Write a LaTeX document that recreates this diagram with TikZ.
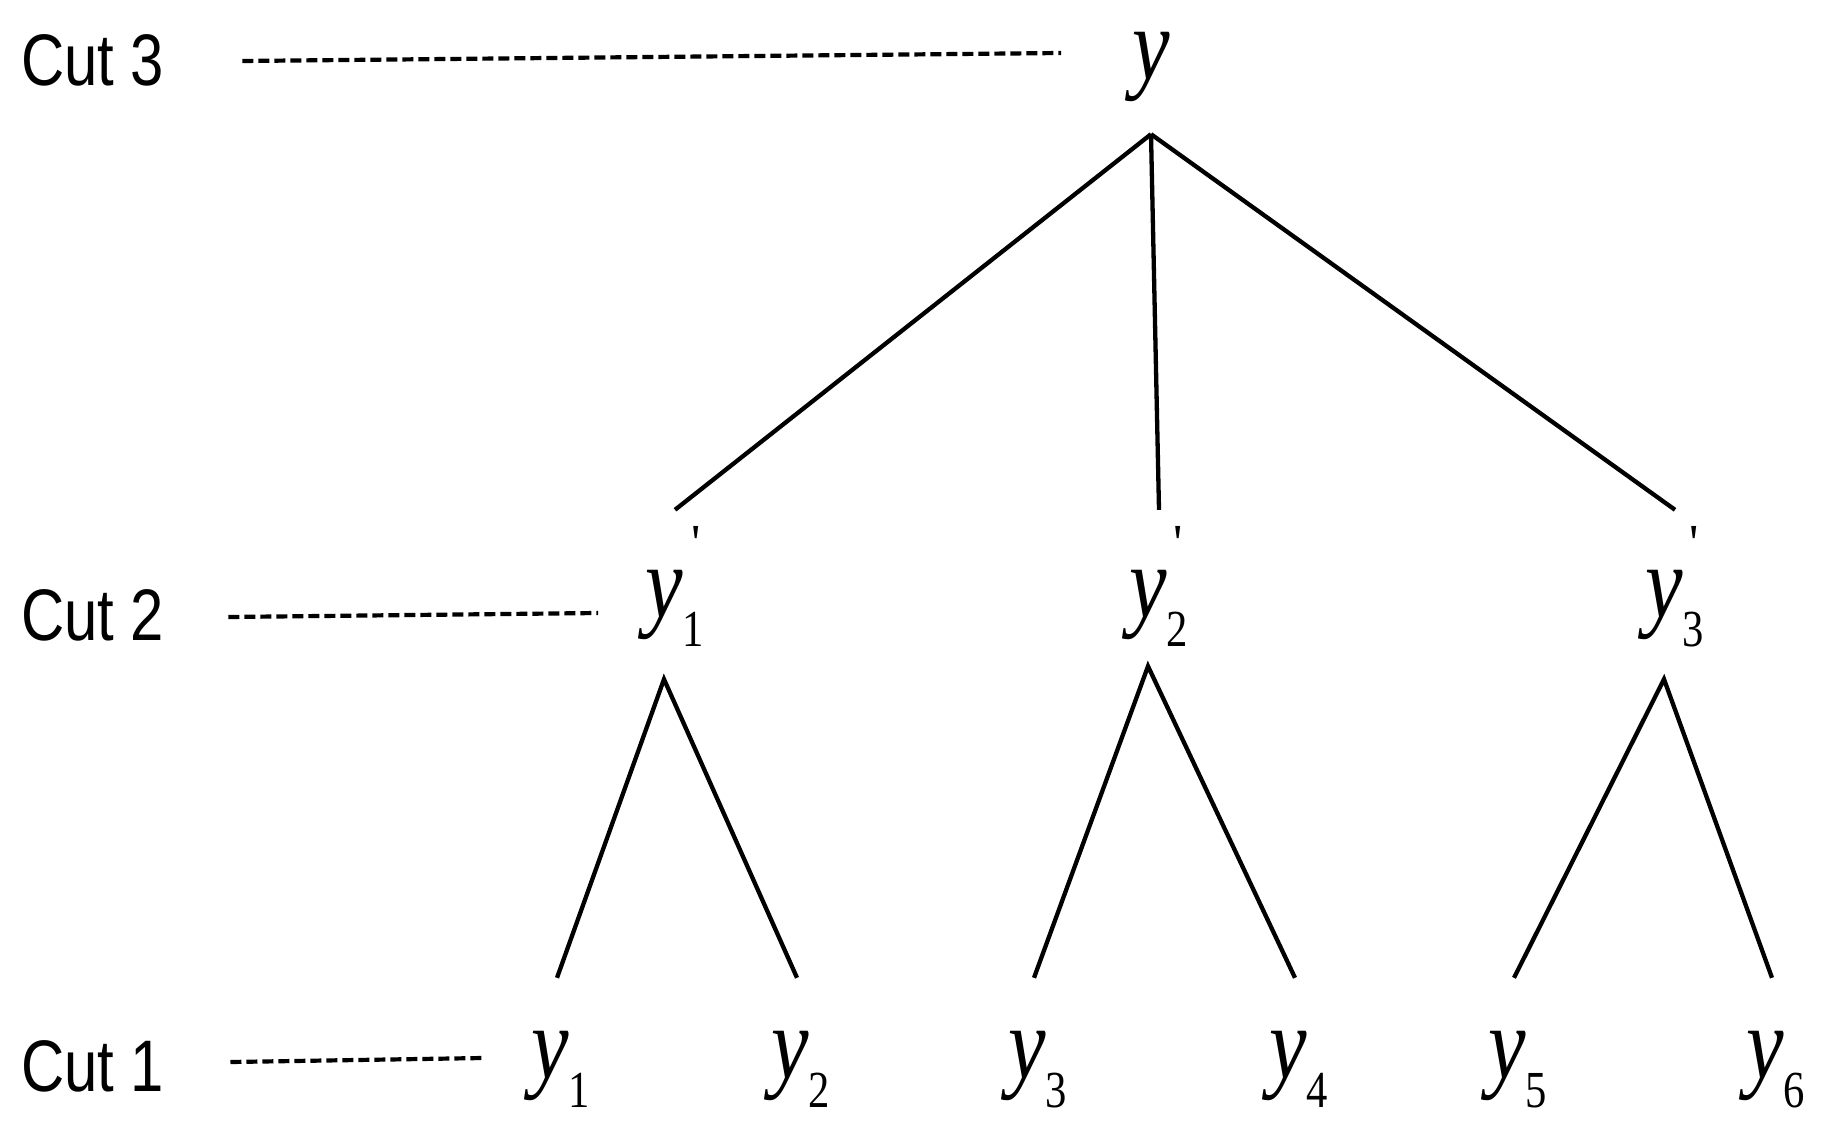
\documentclass[tikz,border=0pt]{standalone}
\usepackage{fontspec}
\usepackage{graphicx}
\setmainfont{Liberation Serif}
\newfontfamily\cutfont{Liberation Sans}
\newcommand\yy[1]{\scalebox{0.82}[1]{\fontsize{103}{103}\selectfont\itshape y\rlap{\raisebox{-29pt}{\fontsize{52}{52}\selectfont\upshape #1}}}}
\newcommand\cutlab[1]{\scalebox{0.82}[1]{\fontsize{73}{73}\selectfont\cutfont #1}}
\begin{document}
\begin{tikzpicture}[x=1pt,y=-1pt,
  cut/.style={inner sep=0pt,anchor=west},
  ylab/.style={inner sep=0pt,anchor=base},
  tick/.style={inner sep=0pt,font=\fontsize{52}{52}\selectfont},
  edge/.style={line width=4.3pt},
  cutline/.style={line width=4.2pt,dash pattern=on 11pt off 5pt}]
\useasboundingbox (0,0) rectangle (1826,1134);
% cut labels
\node[cut] (c3) at (21,60) {\cutlab{Cut 3}};
\node[cut] (c2) at (21,615) {\cutlab{Cut 2}};
\node[cut] (c1) at (21,1066) {\cutlab{Cut 1}};
% root
\node[ylab,text depth=54pt] (r) at (1151,80) {\scalebox{0.82}[1]{\fontsize{103}{103}\selectfont\itshape y}};
% middle level
\node[ylab,text height=107pt,text depth=62pt] (p1) at (664,617) {\yy{1}};
\node[ylab,text height=107pt,text depth=49pt] (p2) at (1148,617) {\yy{2}};
\node[ylab,text height=107pt,text depth=62pt] (p3) at (1664,617) {\yy{3}};
\node[tick] (t1) at (696,543) {\textquotesingle};
\node[tick] (t2) at (1178,543) {\textquotesingle};
\node[tick] (t3) at (1694,543) {\textquotesingle};
% leaves
\node[ylab,text height=100pt] (l1) at (550,1078) {\yy{1}};
\node[ylab,text height=100pt] (l2) at (790,1078) {\yy{2}};
\node[ylab,text height=100pt] (l3) at (1027,1078) {\yy{3}};
\node[ylab,text height=100pt] (l4) at (1288,1078) {\yy{4}};
\node[ylab,text height=100pt] (l5) at (1507,1078) {\yy{5}};
\node[ylab,text height=100pt] (l6) at (1765,1078) {\yy{6}};
% tree edges
\draw[edge] (r.south) -- ([xshift=11pt]p1.north);
\draw[edge] (r.south) -- ([xshift=11pt]p2.north);
\draw[edge] (r.south) -- ([xshift=11pt]p3.north);
\draw[edge] ([xshift=7pt]l1.north) -- (p1.south) -- ([xshift=7pt]l2.north);
\draw[edge] ([xshift=7pt]l3.north) -- (p2.south) -- ([xshift=7pt]l4.north);
\draw[edge] ([xshift=7pt]l5.north) -- (p3.south) -- ([xshift=7pt]l6.north);
% cut lines
\draw[cutline] ([xshift=78pt,yshift=-1pt]c3.east) -- ([xshift=-71pt,yshift=27pt]r.base west);
\draw[cutline] ([xshift=64pt,yshift=-2pt]c2.east) -- ([xshift=-47pt,yshift=4pt]p1.base west);
\draw[cutline] ([xshift=66pt,yshift=4pt]c1.east) -- ([xshift=-48pt,yshift=20pt]l1.base west);
\end{tikzpicture}
\end{document}
